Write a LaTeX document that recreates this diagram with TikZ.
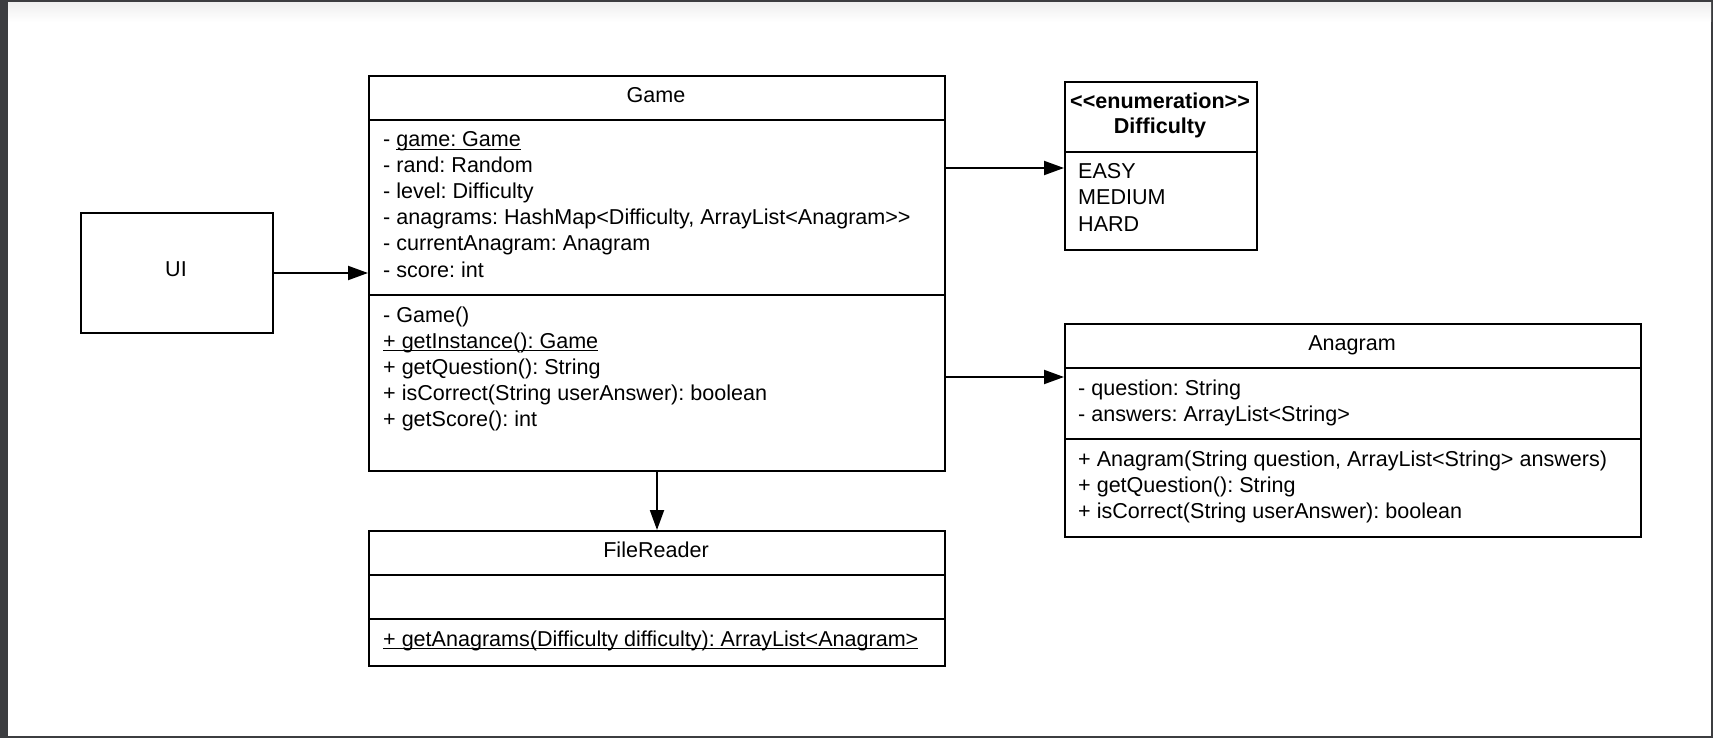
\documentclass[tikz,border=0pt]{standalone}
\usepackage{fontspec}
\setmainfont[Ligatures=TeXOff]{Liberation Sans}
\usetikzlibrary{arrows.meta,positioning}
\definecolor{framegray}{HTML}{3C3D40}
\newcommand{\statictext}[1]{\setbox0\hbox{#1}\rlap{\rule[-3pt]{\wd0}{1.3pt}}\box0}
\frenchspacing
\tikzset{
  classbox/.style={draw, line width=2pt, rectangle, anchor=north west, inner sep=0pt},
  member/.style={anchor=base west, inner sep=0pt},
  classname/.style={anchor=base, inner sep=0pt},
  divider/.style={line width=2pt},
  assoc/.style={line width=2pt, -{Triangle[length=20pt,width=14pt]}},
}

\begin{document}
\begin{tikzpicture}[x=1pt,y=-1pt,font=\fontsize{21.55}{26}\selectfont]
\useasboundingbox (0,0) rectangle (1713,738);
% window frame
\fill[framegray] (0,0) rectangle (1713,738);
\fill[white] (8,3) rectangle (1711,736);
\shade[top color=black!6, bottom color=white] (8,3) rectangle (1711,22);

% UI
\node[classbox, minimum width=192pt, minimum height=120pt] (ui) at (80,212) {};
\node[classname] (ui-name) at (176,276) {UI};

% Game
\node[classbox, minimum width=576pt, minimum height=395pt] (game) at (368,75) {};
\node[classname] (game-name) at (656,103) {Game};
\draw[divider] (368,120) -- (944,120);
\draw[divider] (368,295) -- (944,295);
\foreach \mtext [count=\i from 0] in {{- \statictext{game: Game}}, {- rand: Random},
    {- level: Difficulty}, {- anagrams: HashMap<Difficulty, ArrayList<Anagram>>},
    {- currentAnagram: Anagram}, {- score: int}}
  \node[member] (game-a\i) at (383,{147+26*\i}) {\mtext};
\foreach \mtext [count=\i from 0] in {{- Game()}, {\statictext{+ getInstance(): Game}},
    {+ getQuestion(): String}, {+ isCorrect(String userAnswer): boolean},
    {+ getScore(): int}}
  \node[member] (game-m\i) at (383,{322+26*\i}) {\mtext};

% Difficulty
\node[classbox, minimum width=192pt, minimum height=168pt] (diff) at (1064,81) {};
\node[classname, font=\fontsize{21.55}{26}\selectfont\bfseries] (diff-stereo) at (1160,109) {<<enumeration>>};
\node[classname, font=\fontsize{21.55}{26}\selectfont\bfseries] (diff-name) at (1160,134) {Difficulty};
\draw[divider] (1064,152) -- (1256,152);
\foreach \mtext [count=\i from 0] in {EASY, MEDIUM, HARD}
  \node[member] (diff-v\i) at (1078,{179+26*\i}) {\mtext};

% Anagram
\node[classbox, minimum width=576pt, minimum height=213pt] (anagram) at (1064,323) {};
\node[classname] (anagram-name) at (1352,350) {Anagram};
\draw[divider] (1064,368) -- (1640,368);
\draw[divider] (1064,439) -- (1640,439);
\foreach \mtext [count=\i from 0] in {{- question: String}, {- answers: ArrayList<String>}}
  \node[member] (anagram-a\i) at (1078,{395+26*\i}) {\mtext};
\foreach \mtext [count=\i from 0] in {{+ Anagram(String question, ArrayList<String> answers)},
    {+ getQuestion(): String}, {+ isCorrect(String userAnswer): boolean}}
  \node[member] (anagram-m\i) at (1078,{466+26*\i}) {\mtext};

% FileReader
\node[classbox, minimum width=576pt, minimum height=135pt] (reader) at (368,530) {};
\node[classname] (reader-name) at (656,557) {FileReader};
\draw[divider] (368,575) -- (944,575);
\draw[divider] (368,619) -- (944,619);
\node[member] (reader-m0) at (383,646) {\statictext{+ getAnagrams(Difficulty difficulty): ArrayList<Anagram>}};

% associations
\draw[assoc] (ui.east) -- (ui.east -| game.west);
\draw[assoc] (game.east |- 0,168) -- (diff.west |- 0,168);
\draw[assoc] (game.east |- 0,377) -- (anagram.west |- 0,377);
\draw[assoc] (game.south) -- (reader.north);
\end{tikzpicture}
\end{document}
